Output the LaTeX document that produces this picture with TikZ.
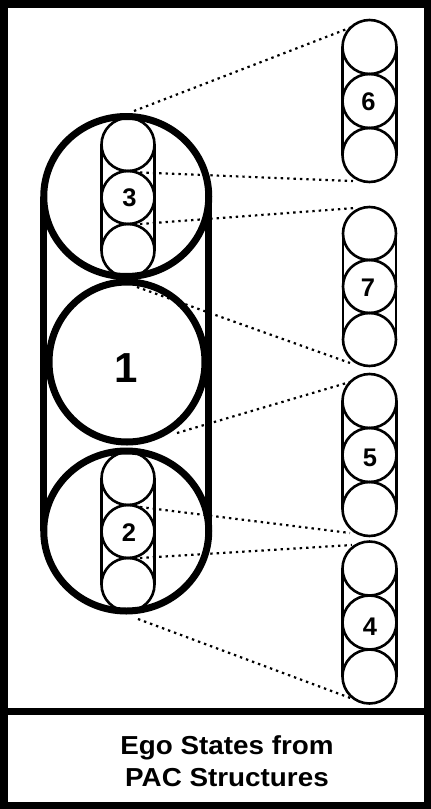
\documentclass[tikz,border=0pt]{standalone}
\usepackage{fontspec}
\setmainfont{Liberation Sans}
\newcommand\pacstack[3]{% x, y (centre), r
  \draw[smallring] (#1-#3,#2-2*#3) -- (#1-#3,#2+2*#3) (#1+#3,#2-2*#3) -- (#1+#3,#2+2*#3);
  \foreach \k in {-1,0,1} \draw[smallring] (#1,#2+2*#3*\k) circle[radius=#3];
}
\begin{document}
\begin{tikzpicture}[x=1pt,y=-1pt,
  frameline/.style={line width=7.5pt},
  bigring/.style={line width=7pt},
  smallring/.style={line width=2.6pt},
  link/.style={line width=2.2pt, dash pattern=on 2.4pt off 4pt},
  biglabel/.style={font=\bfseries\fontsize{42}{42}\selectfont, inner sep=0pt},
  numlabel/.style={font=\bfseries\fontsize{25.5}{25.5}\selectfont, inner sep=0pt},
  captext/.style={font=\bfseries\fontsize{26}{26}\selectfont, inner sep=0pt, anchor=base}]
\useasboundingbox (0,0) rectangle (431,809);
\fill[white] (0,0) rectangle (431,809);
% outer frame and divider
\draw[frameline] (3.75,3.75) rectangle (427.25,805.25);
\draw[frameline] (0,711.5) -- (431,711.5);
% big structure
\draw[bigring] (126.25,196.5) ellipse[x radius=82.5, y radius=80];
\draw[bigring] (126.25,531) ellipse[x radius=82.5, y radius=80];
\draw[bigring] (43.75,196.5) -- (43.75,531);
\draw[bigring] (208.75,196.5) -- (208.75,531);
\draw[bigring] (127,362) ellipse[x radius=78, y radius=80];
% inner stacks
\pacstack{128}{197.5}{26.5}
\pacstack{128}{531.5}{26.5}
% right stacks
\pacstack{369.5}{101}{27}
\pacstack{369.5}{286.5}{26.5}
\pacstack{369.5}{455}{27}
\pacstack{369.5}{622.5}{27}
% labels
\node[biglabel] (n1) at (126,368) {1};
\node[numlabel] (n3) at (129.5,198) {3};
\node[numlabel] (n2) at (129,533) {2};
\node[numlabel] (n6) at (368.5,101.5) {6};
\node[numlabel] (n7) at (368,288) {7};
\node[numlabel] (n5) at (370,458) {5};
\node[numlabel] (n4) at (370,627) {4};
% connector ends
\coordinate (a1) at (134,111);  \coordinate (b1) at (352,27);
\coordinate (a2) at (140,172.5);\coordinate (b2) at (353,181);
\coordinate (a3) at (140,224);  \coordinate (b3) at (355,208);
\coordinate (a4) at (137,287);  \coordinate (b4) at (350,363);
\coordinate (a5) at (177,433);  \coordinate (b5) at (350,382);
\coordinate (a6) at (140,507);  \coordinate (b6) at (350,533);
\coordinate (a7) at (140,558);  \coordinate (b7) at (352,545);
\coordinate (a8) at (138,619);  \coordinate (b8) at (353,699);
\foreach \i in {1,...,8} \draw[link] (a\i) -- (b\i);
% caption
\node[captext] (c1) at (227,754.3) {\scalebox{1.07}[1]{Ego States from}};
\node[captext] (c2) at (227,786.7) {\scalebox{1.07}[1]{PAC Structures}};
\end{tikzpicture}
\end{document}
